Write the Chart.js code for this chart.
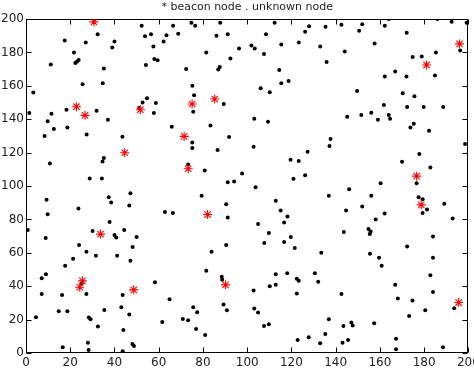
<!DOCTYPE html>
<html>
<head>
<meta charset="utf-8">
<script src="https://cdn.jsdelivr.net/npm/chart.js@4.4.0/dist/chart.umd.min.js"></script>
<style>
  html, body { margin: 0; padding: 0; background: #fff; }
  #wrap { width: 474px; height: 368px; }
</style>
</head>
<body>
<div id="wrap"><canvas id="nodes" width="474" height="368"></canvas></div>
<script>
const titleText = '* beacon node . unknown node';
const axisTicks = [0, 20, 40, 60, 80, 100, 120, 140, 160, 180, 200];

// red stars
const beaconNodes = [
  [30.7, 198.3], [22.8, 147.5], [26.7, 142.3], [51.7, 145.7], [44.6, 119.9],
  [75.1, 149.1], [85.3, 152.1], [71.5, 129.7], [73.3, 110.3], [196, 185.1],
  [181.1, 172.5], [176.6, 105.9], [33.7, 71.2], [25.5, 43.2], [24.3, 39.4],
  [48.7, 37.8], [82.1, 82.9], [90.2, 40.8], [178.7, 88.7], [195.6, 30.2]
];

// black dots
const unknownNodes = [
  [1.5, 143.7], [3.3, 156], [17.5, 187.1], [21.7, 180], [22.3, 173.7], [23.1, 174.6], [23.8, 175.5],
  [27, 186], [11.2, 172.7], [25.6, 160.9], [32.4, 190.8], [35.2, 170.3], [34.7, 161.5], [39, 183],
  [40, 186.5], [18.3, 145.7], [11.5, 143.3], [9.8, 138.7], [12.6, 134.1], [8.4, 129.9], [18.7, 135.1],
  [31.9, 145.1], [37, 139.7], [27.4, 130.9], [43.6, 129.5], [10.8, 113.5], [35.2, 116.7], [34.6, 114.7],
  [28.8, 104.5], [34.3, 104.5], [52.3, 196], [53.8, 189.6], [56.5, 190.8], [57.6, 183.6], [54.2, 172.5],
  [58, 176], [59.5, 175.3], [51.2, 146.7], [52.7, 150], [54.7, 152.5], [58.7, 149.7], [57.8, 143.7],

  [66.5, 196], [63.5, 190.3], [62.2, 186.5], [68.8, 191.2], [74.8, 197.7], [76.5, 196], [87.8, 197.7],
  [86.1, 190], [91.2, 190.8], [81.5, 180], [92.4, 176.4], [96.3, 182.3], [101.9, 184.2], [103.4, 182.3],
  [107.6, 179.1], [108.5, 190.8], [112.4, 197.7], [115.4, 184.8], [123.3, 186], [126.2, 192.3], [128, 195.7],
  [72.4, 170.1], [86.9, 169.7], [87.6, 171.3], [114.5, 169.5], [115.4, 161.5], [118.7, 162.9], [106.1, 158.5],
  [110.2, 156.1], [75.2, 160.1], [76, 154.3], [75.6, 144.5], [89.4, 149.1], [65.9, 135.5], [83.4, 136.3],
  [103.2, 140.3], [109.4, 138.5], [91.8, 129.3], [75.2, 126.1], [75.2, 122.7], [102.9, 123.5], [86.6, 121.5],
  [73.3, 112.9], [80.8, 109.3], [91.2, 102.3], [94.1, 102.7], [97.7, 107.5], [103.8, 99.3], [119.6, 115.7],
  [123.3, 114.9], [127.3, 120.5], [120.9, 104.3], [126.2, 106.5],

  [135.4, 195.3], [142.6, 196.5], [152, 196.8], [150.6, 192.9], [162.2, 196], [164, 200], [172.1, 191.8],
  [186, 200], [192.4, 198.3], [199.2, 197.7], [133, 183.6], [144.1, 180.6], [157.6, 185.4], [135.9, 174.3],
  [185.3, 180], [178.9, 177.6], [174.8, 177.3], [196.3, 181.2], [166.9, 168.5], [162.2, 165.5], [172, 165.5],
  [184.9, 166.1], [149.7, 156.9], [170.3, 155.5], [175.6, 153.7], [161.8, 148.5], [172.3, 147.3], [179.8, 147.3],
  [188.6, 147.3], [156.1, 143.9], [151.6, 142.5], [145.2, 141.5], [159.1, 139.7], [164, 142.5], [164.6, 140.3],
  [175.3, 137.3], [173.8, 135.1], [182.2, 133.1], [137.7, 128.1], [137.2, 123.9], [198.5, 125.1], [177.8, 119.1],
  [170, 114.5], [182.8, 111.1], [160.3, 101.7], [176.6, 101.7], [146.1, 98.1],

  [0.8, 73.7], [9.3, 91.7], [9.8, 83.1], [8.9, 68.8], [4.5, 21.4], [7.1, 44.8], [9, 47.2],
  [7.1, 35.4], [17.7, 52.3], [21.3, 56.4], [24, 64.7], [23.7, 86.5], [27.3, 60.7], [30.1, 73.1],
  [31.6, 58.2], [16.3, 34.8], [14.8, 25], [18.7, 25], [16.6, 3.4], [25.2, 41.4], [27.3, 35.4],
  [28.4, 21.2], [29.2, 20.2], [28, 6.2], [28.3, 1.8], [32.5, 15.8], [35.4, 25.8], [37.4, 93.3],
  [38.5, 90.1], [37.8, 78.4], [40, 70.7], [40.8, 69.1], [41.2, 58.2], [44.4, 73.7], [47.2, 95.7],
  [46.7, 88.3], [50, 69.4], [48.2, 63.5], [47.2, 55.3], [43.7, 34.8], [43.1, 27.4], [46.7, 23],
  [44, 13.8], [48.1, 5.4], [48.8, 4.2], [43.7, 1], [58.3, 42.4],

  [79.4, 94.1], [62.8, 84.5], [66.4, 83.9], [90.5, 89.1], [91.2, 81.1], [90.5, 64.7], [83.9, 60.7],
  [81.5, 49.2], [88.5, 45.6], [88.7, 43.9], [64.9, 32.2], [61.6, 18.6], [70.9, 20.4], [73.3, 19.6],
  [75.6, 27.4], [77.4, 24.4], [76.9, 14.4], [81, 10.8], [89.3, 29], [90.8, 25.6], [112.9, 91.1],
  [115.1, 85.3], [118.2, 81.7], [116.7, 78.1], [104.9, 77.2], [109.8, 71.8], [107.7, 65.9], [116.7, 66.5],
  [119.7, 69.4], [121.5, 62.9], [112.9, 47.2], [118.1, 47.8], [122.4, 44.4], [123.3, 43.2], [112.9, 40.8],
  [110.2, 40], [102.9, 37.4], [122.4, 35.6], [103.2, 26.6], [104.9, 24.2], [107.6, 16.2], [109.8, 17.2],
  [122.8, 7.8], [127.8, 9.4],

  [136.9, 94.1], [156.1, 94.1], [152, 87.7], [144.7, 85.3], [162.1, 83.5], [158.1, 79.9], [143.7, 72.4],
  [154.8, 74.3], [155.8, 72.7], [155.4, 71.2], [177.5, 93.3], [179.3, 92.1], [179.3, 83.9], [181.3, 85.9],
  [189.1, 89.3], [192.9, 80.5], [184, 69.7], [172.3, 63.7], [133.5, 60.1], [155.5, 59.5], [159.6, 57.1],
  [160.8, 52.3], [184, 57.1], [130.6, 47.8], [132.1, 42.6], [182.8, 46.6], [166.9, 40.9], [142.6, 35.4],
  [168.1, 32.6], [174.7, 31.4], [184, 36.6], [180.5, 25.6], [173.2, 22.2], [193.6, 26.8], [136.9, 20.2],
  [143.5, 16.2], [147.1, 18.2], [147.7, 16.4], [157.4, 17.8], [135.3, 11.4], [133, 5.8], [143.1, 6.2],
  [145.6, 7.8], [167.3, 8.6], [167.3, 2.2], [188.5, 3.4]
];

const toPoints = (list) => list.map(([x, y]) => ({ x, y }));

// matlab look: box round the axes, ticks pointing inwards on every side
const frame = {
  id: 'frame',
  beforeDatasetsDraw(chart) {
    const { ctx, chartArea: a, scales } = chart;
    const tl = 5;
    ctx.save();
    ctx.strokeStyle = '#000';
    ctx.lineWidth = 1;
    const l = Math.round(a.left) + 0.5, r = Math.round(a.right) - 0.5;
    const t = Math.round(a.top) + 0.5, b = Math.round(a.bottom) - 0.5;
    ctx.strokeRect(l, t, r - l, b - t);
    ctx.beginPath();
    scales.x.ticks.forEach((tk) => {
      const px = Math.round(scales.x.getPixelForValue(tk.value)) + 0.5;
      ctx.moveTo(px, b); ctx.lineTo(px, b - tl);
      ctx.moveTo(px, t); ctx.lineTo(px, t + tl);
    });
    scales.y.ticks.forEach((tk) => {
      const py = Math.round(scales.y.getPixelForValue(tk.value)) + 0.5;
      ctx.moveTo(l, py); ctx.lineTo(l + tl, py);
      ctx.moveTo(r, py); ctx.lineTo(r - tl, py);
    });
    ctx.stroke();
    ctx.restore();
  },
  afterDraw(chart) {
    const { ctx, chartArea: a } = chart;
    ctx.save();
    ctx.fillStyle = '#222';
    ctx.font = '11px "DejaVu Sans"';
    ctx.textAlign = 'center';
    ctx.textBaseline = 'middle';
    ctx.fillText(titleText, (a.left + a.right) / 2, 7);
    ctx.restore();
  }
};

const tickFont = { family: 'DejaVu Sans', size: 12 };

new Chart(document.getElementById('nodes'), {
  type: 'scatter',
  data: {
    datasets: [
      {
        label: 'beacon node',
        data: toPoints(beaconNodes),
        pointStyle: 'star',
        pointRadius: 4.5,
        borderColor: '#ff0000',
        backgroundColor: '#ff0000',
        borderWidth: 1.1,
      },
      {
        label: 'unknown node',
        data: toPoints(unknownNodes),
        pointStyle: 'circle',
        pointRadius: 2,
        backgroundColor: '#000',
        borderWidth: 0,
      },
    ],
  },
  options: {
    responsive: false,
    animation: false,
    devicePixelRatio: 1,
    layout: { padding: { top: 19, right: 3, left: 0, bottom: 0 } },
    plugins: { legend: { display: false }, tooltip: { enabled: false } },
    scales: {
      x: {
        type: 'linear',
        min: 0,
        max: 200,
        afterBuildTicks: (s) => { s.ticks = axisTicks.map((v) => ({ value: v })); },
        afterFit: (s) => { s.height = 15; s.paddingLeft = 0; s.paddingRight = 0; },
        grid: { display: false, drawTicks: false },
        border: { display: false },
        ticks: { font: tickFont, color: '#222', padding: 3, maxRotation: 0, autoSkip: false },
      },
      y: {
        type: 'linear',
        min: 0,
        max: 200,
        afterBuildTicks: (s) => { s.ticks = axisTicks.map((v) => ({ value: v })); },
        afterFit: (s) => { s.width = 26; s.paddingTop = 0; s.paddingBottom = 0; },
        grid: { display: false, drawTicks: false },
        border: { display: false },
        ticks: { font: tickFont, color: '#222', padding: 2, autoSkip: false },
      },
    },
  },
  plugins: [frame],
});
</script>
</body>
</html>
